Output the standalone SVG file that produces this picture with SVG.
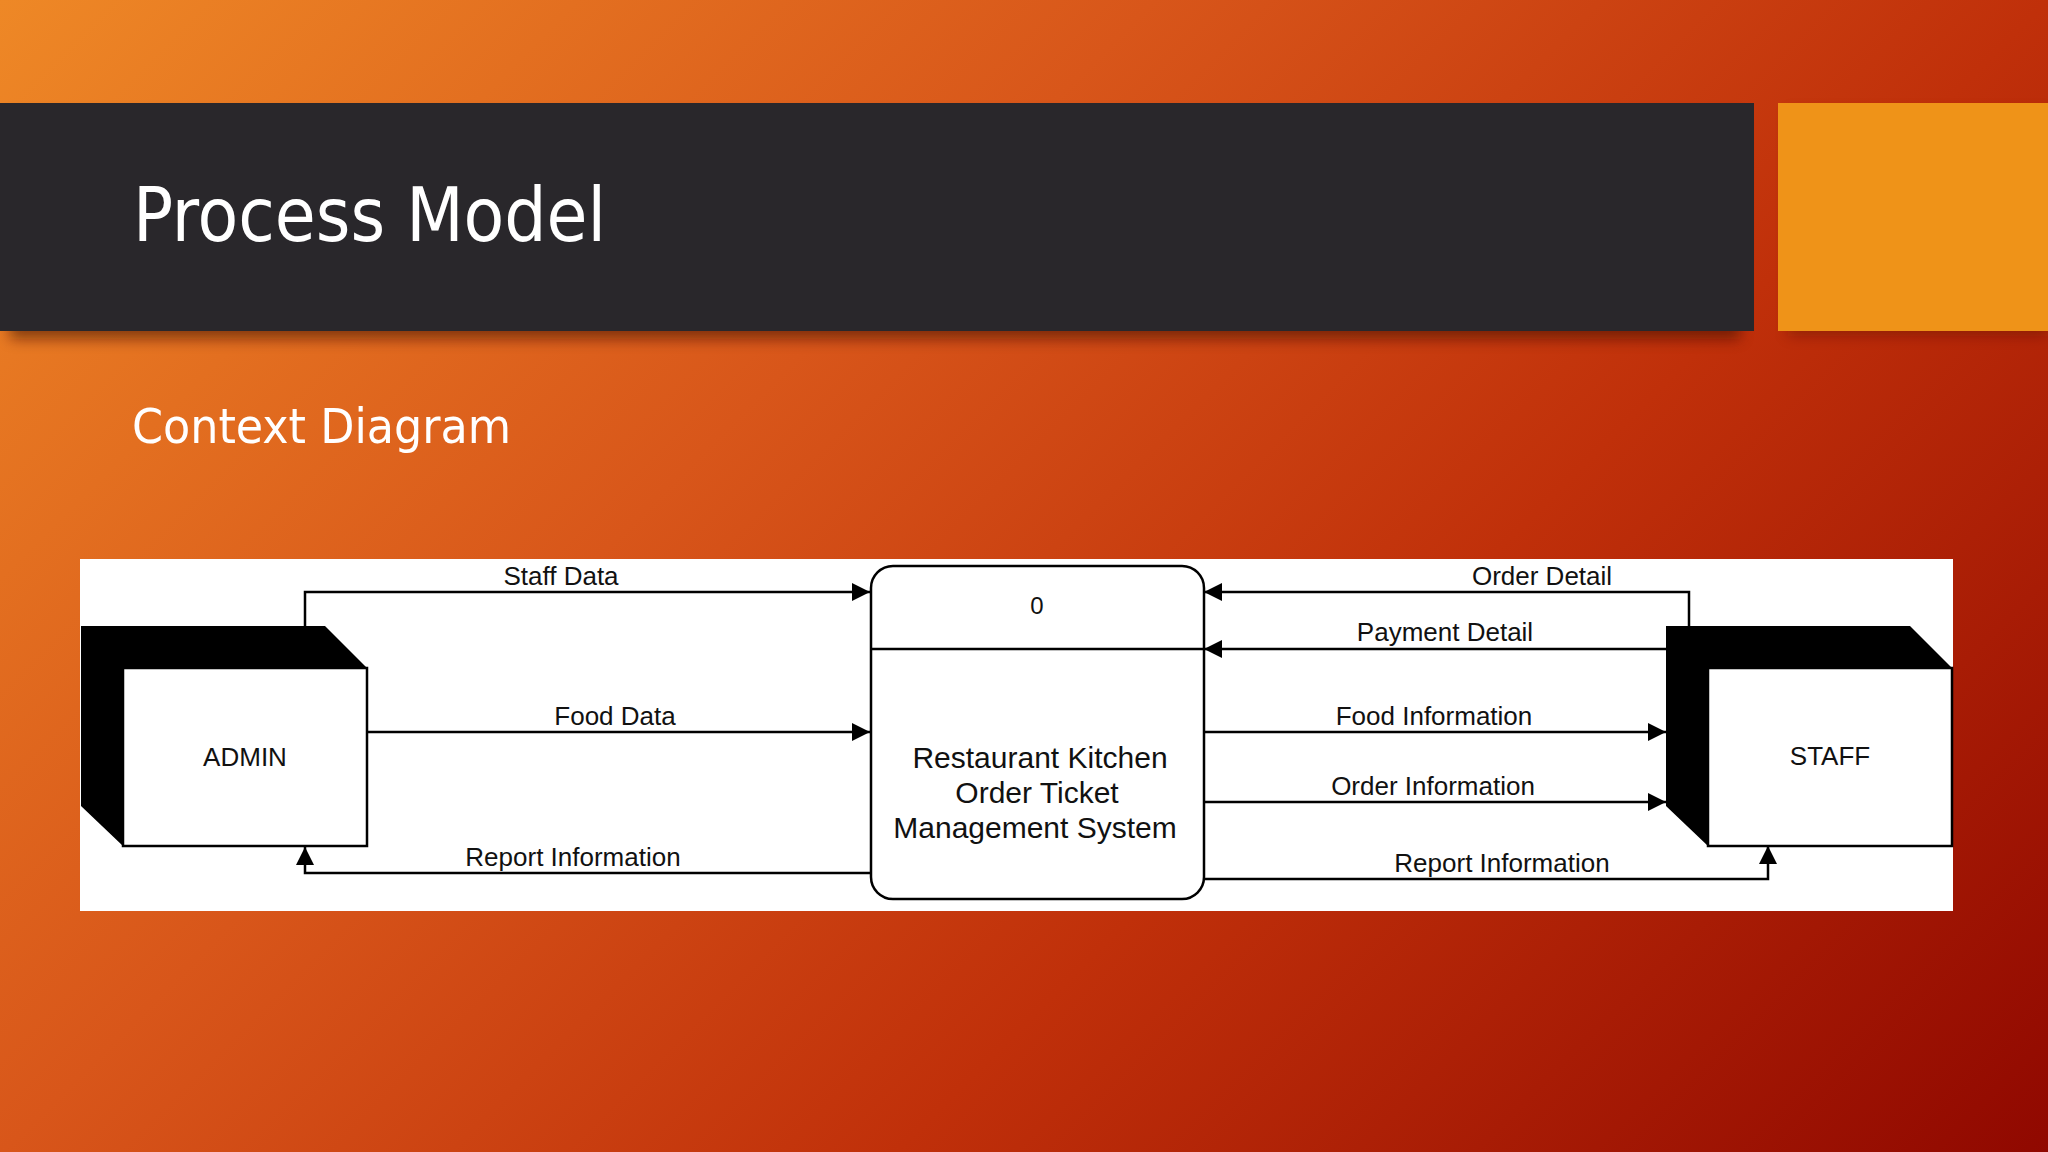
<svg xmlns="http://www.w3.org/2000/svg" width="2048" height="1152" viewBox="0 0 2048 1152">
  <defs>
    <linearGradient id="bg" gradientUnits="userSpaceOnUse" x1="0" y1="0" x2="1862" y2="1862">
      <stop offset="0" stop-color="#EE8826"/>
      <stop offset="0.31" stop-color="#D8561A"/>
      <stop offset="0.55" stop-color="#C0300A"/>
      <stop offset="0.86" stop-color="#900800"/>
      <stop offset="1" stop-color="#860300"/>
    </linearGradient>
    <filter id="shadow" x="-5%" y="-20%" width="110%" height="150%">
      <feGaussianBlur stdDeviation="7"/>
    </filter>
    <marker id="arrow" viewBox="0 0 10 10" refX="10" refY="5" markerUnits="userSpaceOnUse" markerWidth="19" markerHeight="18" orient="auto">
      <path d="M0,0 L10,5 L0,10 z" fill="#000"/>
    </marker>
    <style>
      .lbl { font-family: "Liberation Sans", Arial, sans-serif; font-size: 26px; fill: #111; text-anchor: middle; }
      .proc { font-family: "Liberation Sans", Arial, sans-serif; font-size: 30px; fill: #111; text-anchor: middle; }
      .flow { fill: none; stroke: #000; stroke-width: 2.5; marker-end: url(#arrow); }
      .box { fill: #fff; stroke: #000; stroke-width: 2.5; }
      .title { font-family: "DejaVu Sans Condensed", "DejaVu Sans", sans-serif; fill: #fff; }
    </style>
  </defs>

  <!-- background -->
  <rect x="0" y="0" width="2048" height="1152" fill="url(#bg)"/>

  <!-- title bar with shadow -->
  <rect x="10" y="115" width="1730" height="224" fill="#3a0a00" opacity="0.55" filter="url(#shadow)"/>
  <rect x="1788" y="112" width="260" height="224" fill="#5a1000" opacity="0.4" filter="url(#shadow)"/>
  <rect x="0" y="103" width="1754" height="228" fill="#29272B"/>
  <rect x="1778" y="103" width="270" height="228" fill="#EF9318"/>
  <text class="title" x="133" y="241" font-size="75" textLength="473" lengthAdjust="spacingAndGlyphs">Process Model</text>
  <text class="title" x="132" y="443" font-size="48" textLength="379" lengthAdjust="spacingAndGlyphs">Context Diagram</text>

  <!-- diagram canvas -->
  <rect x="80" y="559" width="1873" height="352" fill="#fff"/>

  <!-- connectors -->
  <g id="connectors">
    <path class="flow" d="M305,626 V592 H870"/>
    <path class="flow" d="M367,732 H870"/>
    <path class="flow" d="M870,873 H305 V847"/>
    <path class="flow" d="M1689,626 V592 H1204"/>
    <path class="flow" d="M1666,649 H1204"/>
    <path class="flow" d="M1204,732 H1666"/>
    <path class="flow" d="M1204,802 H1666"/>
    <path class="flow" d="M1204,879 H1768 V846"/>
    <text class="lbl" x="561" y="585">Staff Data</text>
    <text class="lbl" x="615" y="725">Food Data</text>
    <text class="lbl" x="573" y="866">Report Information</text>
    <text class="lbl" x="1542" y="585">Order Detail</text>
    <text class="lbl" x="1445" y="641">Payment Detail</text>
    <text class="lbl" x="1434" y="725">Food Information</text>
    <text class="lbl" x="1433" y="795">Order Information</text>
    <text class="lbl" x="1502" y="872">Report Information</text>
  </g>

  <!-- ADMIN external entity -->
  <g id="admin">
    <polygon points="81,626 325,626 367,668 123,668 123,846 81,806" fill="#000"/>
    <rect class="box" x="123" y="668" width="244" height="178"/>
    <text class="lbl" x="245" y="766">ADMIN</text>
  </g>

  <!-- STAFF external entity -->
  <g id="staff">
    <polygon points="1666,626 1910,626 1952,668 1708,668 1708,846 1666,806" fill="#000"/>
    <rect class="box" x="1708" y="668" width="244" height="178"/>
    <text class="lbl" x="1830" y="765">STAFF</text>
  </g>

  <!-- Process 0 -->
  <g id="process">
    <rect class="box" x="871" y="566" width="333" height="333" rx="22" ry="22"/>
    <line x1="871" y1="649" x2="1204" y2="649" stroke="#000" stroke-width="2.5"/>
    <text class="lbl" x="1037" y="614" font-size="24" style="font-size:24px">0</text>
    <text class="proc" x="1040" y="768">Restaurant Kitchen</text>
    <text class="proc" x="1037" y="803">Order Ticket</text>
    <text class="proc" x="1035" y="838">Management System</text>
  </g>
</svg>
